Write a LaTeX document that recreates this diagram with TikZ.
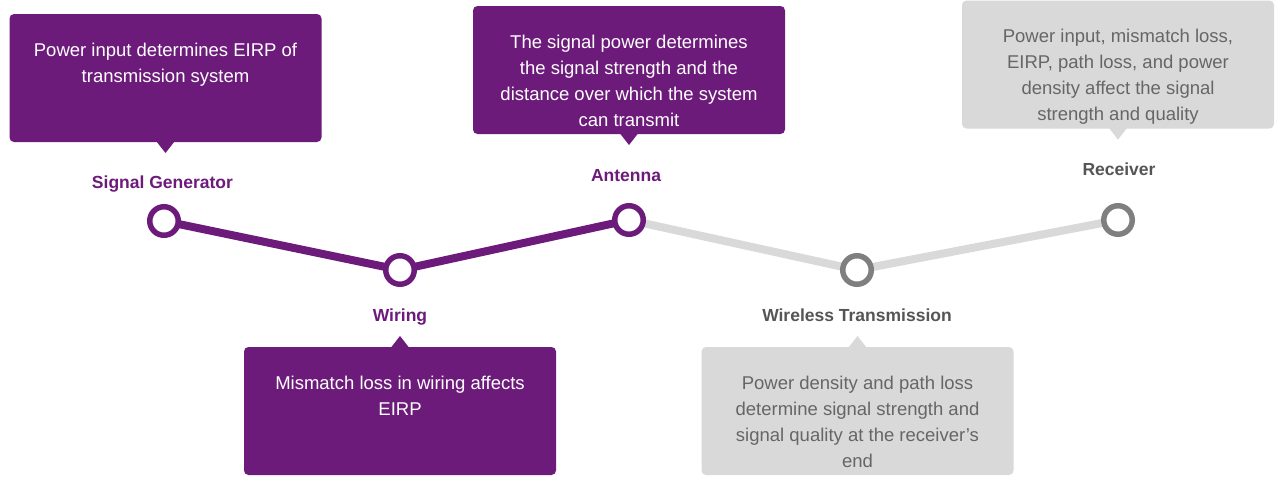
\documentclass[tikz,border=0pt]{standalone}
\usepackage{fontspec}
\setmainfont{Liberation Sans}
\usetikzlibrary{backgrounds}
\definecolor{pur}{HTML}{6D1B7B}
\definecolor{lgray}{HTML}{D9D9D9}
\definecolor{dgray}{HTML}{7F7F7F}
\definecolor{tgray}{HTML}{666666}
\definecolor{lblgray}{HTML}{555555}
\newcommand{\bodyfnt}{\fontsize{18.5}{26}\selectfont}
\newcommand{\lblfnt}{\fontsize{17.5}{20}\selectfont\bfseries}
\tikzset{
  box/.style={rectangle, rounded corners=4.5pt, minimum width=312pt, minimum height=128pt, inner sep=0pt, outer sep=0pt},
  pbox/.style={box, fill=pur},
  gbox/.style={box, fill=lgray},
  btext/.style={font=\bodyfnt, align=center, inner sep=0pt, anchor=north},
  wtext/.style={btext, text=white},
  gtext/.style={btext, text=tgray},
  ring/.style={circle, line width=5.5pt, fill=white, minimum size=28.5pt, inner sep=0pt, outer sep=0pt},
  pring/.style={ring, draw=pur},
  gring/.style={ring, draw=dgray},
  lbl/.style={font=\lblfnt, anchor=base, inner sep=0pt},
  plbl/.style={lbl, text=pur},
  glbl/.style={lbl, text=lblgray},
  pline/.style={draw=pur, line width=8pt, line cap=butt},
  gline/.style={draw=lgray, line width=8pt, line cap=butt},
}
\begin{document}
\begin{tikzpicture}[x=1pt,y=-1pt]
\useasboundingbox (0,0) rectangle (1280,482);

% rings
\node[pring] (n1) at (164,221) {};
\node[pring] (n2) at (400,270) {};
\node[pring] (n3) at (629,220) {};
\node[gring] (n4) at (857,270) {};
\node[gring] (n5) at (1118,220) {};

\begin{scope}[on background layer]
\fill[white] (0,0) rectangle (1280,482);
\draw[pline] (n1) -- (n2);
\draw[pline] (n2) -- (n3);
\draw[gline] (n3) -- (n4);
\draw[gline] (n4) -- (n5);
\end{scope}

% labels
\node[plbl] (l1) at (162.5,188) {Signal Generator};
\node[plbl] (l2) at (400,321) {Wiring};
\node[plbl] (l3) at (626,181) {Antenna};
\node[glbl] (l4) at (857,321) {Wireless Transmission};
\node[glbl] (l5) at (1119,175) {Receiver};

% boxes
\node[pbox] (b1) at (165.5,78) {};
\node[pbox] (b3) at (629,70) {};
\node[gbox] (b5) at (1118,64.5) {};
\node[pbox] (b2) at (400,411) {};
\node[gbox] (b4) at (857.5,411) {};

% pointers
\fill[pur] ([xshift=-9pt,yshift=0.5pt]b1.south) -- ([xshift=9pt,yshift=0.5pt]b1.south) -- ([yshift=-11pt]b1.south) -- cycle;
\fill[pur] ([xshift=-9pt,yshift=0.5pt]b3.south) -- ([xshift=9pt,yshift=0.5pt]b3.south) -- ([yshift=-11pt]b3.south) -- cycle;
\fill[lgray] ([xshift=-9pt,yshift=0.5pt]b5.south) -- ([xshift=9pt,yshift=0.5pt]b5.south) -- ([yshift=-11pt]b5.south) -- cycle;
\fill[pur] ([xshift=-9pt,yshift=-0.5pt]b2.north) -- ([xshift=9pt,yshift=-0.5pt]b2.north) -- ([yshift=11pt]b2.north) -- cycle;
\fill[lgray] ([xshift=-9pt,yshift=-0.5pt]b4.north) -- ([xshift=9pt,yshift=-0.5pt]b4.north) -- ([yshift=11pt]b4.north) -- cycle;

% texts
\node[wtext] (t1) at ([yshift=-28.5pt]b1.north) {Power input determines EIRP of\\transmission system};
\node[wtext] (t3) at ([yshift=-28.5pt]b3.north) {The signal power determines\\the signal strength and the\\distance over which the system\\can transmit};
\node[gtext] (t5) at ([yshift=-28.5pt]b5.north) {Power input, mismatch loss,\\EIRP, path loss, and power\\density affect the signal\\strength and quality};
\node[wtext] (t2) at ([yshift=-28.5pt]b2.north) {Mismatch loss in wiring affects\\EIRP};
\node[gtext] (t4) at ([yshift=-28.5pt]b4.north) {Power density and path loss\\determine signal strength and\\signal quality at the receiver’s\\end};
\end{tikzpicture}
\end{document}
